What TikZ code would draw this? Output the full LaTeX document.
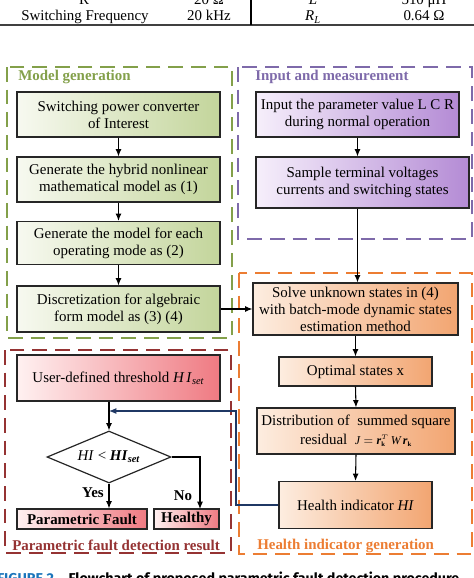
\documentclass[tikz,border=0pt]{standalone}
\usepackage{fontspec}
\setmainfont{Liberation Serif}
\newfontfamily\capfont{Fira Sans}
\usepackage{tikz}
\usetikzlibrary{calc}
\usetikzlibrary{shapes.geometric}
\usetikzlibrary{arrows.meta}
\definecolor{grnline}{HTML}{83A04A}
\definecolor{purline}{HTML}{7E6AAA}
\definecolor{orgline}{HTML}{EC7D33}
\definecolor{redline}{HTML}{953333}
\definecolor{grnlo}{HTML}{F7F9F0}
\definecolor{grnhi}{HTML}{C3D59B}
\definecolor{purlo}{HTML}{F6EFFB}
\definecolor{purhi}{HTML}{B48BD5}
\definecolor{orglo}{HTML}{FDEDE0}
\definecolor{orghi}{HTML}{F2A571}
\definecolor{redlo}{HTML}{FFF1F1}
\definecolor{redhi}{HTML}{EF7A82}
\definecolor{fbline}{HTML}{1F3864}
\definecolor{capblue}{HTML}{1B75BB}
\newcommand{\pxl}{0.75pt}
\newcommand{\txtsize}{\fontsize{11.2}{12.8}\selectfont}
\newcommand{\flownode}[7]{\node[#1, minimum width=#5*\pxl, minimum height=#6*\pxl] (#2) at (#3,#4) {#7};}
\tikzset{
  txt/.style={inner sep=0pt, font=\txtsize},
  ttl/.style={inner sep=0pt, anchor=west, font=\txtsize\bfseries},
  box/.style={draw=black!85, line width=0.9pt, align=center, inner sep=0pt, font=\txtsize},
  gbox/.style={box, left color=grnlo, right color=grnhi},
  pbox/.style={box, left color=purlo, right color=purhi},
  obox/.style={box, left color=orglo, right color=orghi},
  rbox/.style={box, left color=redlo, right color=redhi},
  frame/.style={line width=1.5pt, dash pattern=on 11pt off 6pt},
  arr/.style={-{Latex[length=5.5pt,width=4.5pt]}, line width=0.8pt},
}

\begin{document}
\begin{tikzpicture}[x=0.75pt,y=-0.75pt]
  \useasboundingbox (0,0) rectangle (474,578);
  \clip (0,0) rectangle (474,578);
  %table rest
  \draw[line width=1.1pt, black!75] (0,25) -- (474,25);
  \draw[line width=0.8pt] (251,0) -- (251,25);
  \node[txt, anchor=base] (tR) at (84,4) {R};
  \node[txt, anchor=base] (tRv) at (209,4) {20 Ω};
  \node[txt, anchor=base] (tL) at (313,4) {\textit{L}};
  \node[txt, anchor=base] (tLv) at (424,4) {510 μH};
  \node[txt, anchor=base] (tF) at (85,21) {Switching Frequency};
  \node[txt, anchor=base] (tFv) at (209,21) {20 kHz};
  \node[txt, anchor=base] (tRL) at (313,21) {\textit{R}\textsubscript{\textit{L}}};
  \node[txt, anchor=base] (tRLv) at (424,21) {0.64 Ω};
  %frames
  \draw[frame, grnline] (7,67) rectangle (232,338);
  \draw[frame, purline] (238,67) rectangle (472,239);
  \draw[frame, orgline] (239,273) rectangle (472,554);
  \draw[frame, redline] (5,350) rectangle (231,553);
  \node[ttl, grnline] (tmg) at (18,77) {Model generation};
  \node[ttl, purline] (tim) at (255,77) {Input and measurement};
  \node[ttl, orgline] (thi) at (257,546) {Health indicator generation};
  \node[ttl, redline] (tpf) at (12,545) {Parametric fault detection result};
  %model generation
  \flownode{gbox}{g1}{118.5}{114.5}{203}{45}{Switching power converter\\of Interest}
  \flownode{gbox}{g2}{118.5}{179.5}{203}{45}{Generate the hybrid nonlinear\\mathematical model as (1)}
  \flownode{gbox}{g3}{118.5}{243}{203}{43}{Generate the model for each\\operating mode as (2)}
  \flownode{gbox}{g4}{118.5}{309}{203}{46}{Discretization for algebraic\\form model as (3) (4)}
  %input and measurement
  \flownode{pbox}{p1}{357.5}{114.5}{203}{45}{Input the parameter value L C R\\during normal operation}
  \flownode{pbox}{p2}{362.5}{182.5}{213}{51}{Sample terminal voltages\\currents and switching states}
  %health indicator generation
  \flownode{obox}{o1}{355.5}{309}{205}{52}{Solve unknown states in (4)\\with batch-mode dynamic states\\estimation method}
  \flownode{obox}{o2}{355.5}{371.5}{153}{29}{Optimal states x}
  \flownode{obox}{o3}{356}{431}{198}{46}{Distribution of \ summed square\\[1.5pt]residual \ {\fontsize{9}{10}\selectfont$\textit{J} = \textbf{\textit{r}}_{\scriptscriptstyle\mathbf{k}}^{\scriptscriptstyle T}\,\textit{W}\,\textbf{\textit{r}}_{\scriptscriptstyle\mathbf{k}}$}}
  \flownode{obox}{o4}{355.5}{505}{153}{47}{Health indicator \textit{HI}}
  %fault detection result
  \flownode{rbox}{r1}{118.5}{378}{203}{46}{User-defined threshold \textit{H\,I}\textsubscript{\textit{set}}}
  \node[draw=black!85, line width=0.9pt, fill=white, diamond, aspect=2.4, inner sep=0pt,
        minimum width=124*\pxl, minimum height=52*\pxl, font=\txtsize] (dm) at (109,457)
        {\textit{HI} < \textbf{\textit{HI}}\textsubscript{\textbf{\textit{set}}}};
  \flownode{rbox}{pf}{82}{519}{130}{20}{\textbf{Parametric Fault}}
  \flownode{rbox}{hl}{186.5}{519}{65}{20}{\textbf{Healthy}}
  \node[txt, font=\txtsize\bfseries, anchor=east] (yes) at (104,493) {Yes};
  \node[txt, font=\txtsize\bfseries] (no) at (183,496) {No};
  \coordinate (fb) at (236,411);
  \coordinate (nob) at (200,509);
  %connectors
  \draw[arr] (g1.south) -- (g2.north);
  \draw[arr] (g2.south) -- (g3.north);
  \draw[arr] (g3.south) -- (g4.north);
  \draw[arr] (g4.east) -- (o1.west);
  \draw[arr] (p1.south) -- (p1.south |- p2.north);
  \draw[arr] (p2.south -| p1.south) -- (p1.south |- o1.north);
  \draw[arr] (o1.south) -- (o2.north);
  \draw[arr] (o2.south) -- (o3.north);
  \draw[arr] (o3.south) -- (o4.north);
  \draw[arr, fbline] (o4.west) -| (fb) -- (fb -| dm.north);
  \draw[arr] (r1.south -| dm.north) -- (dm.north);
  \draw[arr] (dm.south) -- (dm.south |- pf.north);
  \draw[arr] (dm.east) -| (nob);
  %caption
  \node[inner sep=0pt, anchor=base west, font=\capfont\bfseries\fontsize{10.7}{12}\selectfont] (cap) at (-3,583)
        {\textcolor{capblue}{FIGURE 2.}\hspace{5pt} Flowchart of proposed parametric fault detection procedure};
\end{tikzpicture}
\end{document}
